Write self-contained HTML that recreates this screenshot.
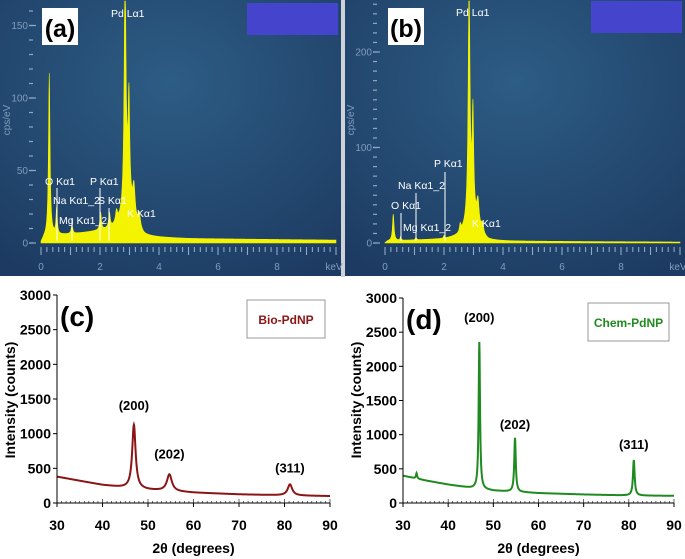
<!DOCTYPE html>
<html><head><meta charset="utf-8"><style>
html,body{margin:0;padding:0;background:#fff;}
svg{display:block;font-family:"Liberation Sans",sans-serif;}
</style></head><body>
<svg id="fig" width="685" height="559" viewBox="0 0 685 559">
<defs>
<radialGradient id="bg" cx="0.5" cy="0.3" r="0.8">
<stop offset="0" stop-color="#2d5c84"/><stop offset="1" stop-color="#1d3b62"/>
</radialGradient>
</defs>
<rect x="0" y="0" width="685" height="559" fill="#fff"/>
<rect x="341" y="0" width="4" height="277" fill="#cfd3d8"/>
<g id="pa"><rect x="0" y="0" width="341" height="276" fill="url(#bg)"/></g>
<g id="pb"><rect x="345" y="0" width="340" height="276" fill="url(#bg)"/></g>
<g id="pc"></g>
<g id="pd"></g>
</svg>
<script>
// ---- EDS data (a) ----
const edsABaseX=[0,0.1,0.3,1,2,2.8,3.5,5,10];
const edsABaseY=[0,3,5,6,8,10,4,3,2];
const edsAPeakC=[0.28,0.53,1.05,2.02,2.32,2.56,2.85,2.98,3.15,3.33,2.95];
const edsAPeakH=[112,18,6,12,10,8,165,65,22,10,25];
const edsAPeakW=[0.03,0.025,0.03,0.03,0.03,0.04,0.035,0.03,0.05,0.05,0.15];
const edsAYTicks=[0,50,100,150];
// ---- EDS data (b) ----
const edsBBaseX=[0,0.1,1,2,2.5,2.75,3.5,10];
const edsBBaseY=[0,2,3,4,6,10,2,1];
const edsBPeakC=[0.28,0.53,1.05,2.0,2.55,2.85,2.98,3.15,3.3,2.95];
const edsBPeakH=[28,4,3,3,8,250,100,28,10,25];
const edsBPeakW=[0.03,0.02,0.02,0.02,0.03,0.035,0.03,0.05,0.05,0.14];
const edsBYTicks=[0,100,200];
const edsXTicks=[0,2,4,6,8];
// ---- XRD data (c) Bio ----
const bioBaseX=[30,35,40,45,50,60,70,80,90];
const bioBaseY=[380,320,260,220,190,150,125,110,100];
const bioPeakC=[46.9,54.7,81.2];
const bioPeakH=[920,240,160];
const bioPeakW=[0.45,0.65,0.6];
// ---- XRD data (d) Chem ----
const chemBaseX=[30,35,40,45,50,60,70,80,90];
const chemBaseY=[400,330,270,220,180,145,125,110,105];
const chemPeakC=[33,46.9,54.8,81.1];
const chemPeakH=[80,2150,790,520];
const chemPeakW=[0.15,0.18,0.2,0.22];
const xrdYTicks=[0,500,1000,1500,2000,2500,3000];
const xrdXTicks=[30,40,50,60,70,80,90];
const hklLabels=["(200)","(202)","(311)"];

const NS="http://www.w3.org/2000/svg";
function mk(parent,tag,attrs,text){const e=document.createElementNS(NS,tag);for(const k in attrs)e.setAttribute(k,attrs[k]);if(text!==undefined)e.textContent=text;parent.appendChild(e);return e;}
function interp(xs,ys,x){if(x<=xs[0])return ys[0];for(let i=1;i<xs.length;i++){if(x<=xs[i]){const t=(x-xs[i-1])/(xs[i]-xs[i-1]);return ys[i-1]+t*(ys[i]-ys[i-1]);}}return ys[ys.length-1];}
function spec(bx,by,pc,ph,pw,x){let y=interp(bx,by,x);for(let i=0;i<pc.length;i++){const d=(x-pc[i])/pw[i];y+=ph[i]/(1+d*d);}return y;}

function eds(g,o){
  const sx=v=>o.x0+v*29.5, sy=v=>o.y0-v*o.k;
  let d="M"+sx(0)+","+sy(0);
  for(let x=0;x<=10.0001;x+=0.01){d+=" L"+sx(x).toFixed(2)+","+Math.max(1,sy(spec(o.bx,o.by,o.pc,o.ph,o.pw,x))).toFixed(2);}
  d+=" L"+sx(10)+","+sy(0)+" Z";
  const p=mk(g,"path",{d:d,fill:"#f4f400",stroke:"#f4f400","stroke-width":"0.6"});
  
  
  for(let v=0;sy(v)>2;v+=10){mk(g,"line",{x1:o.x0-12,x2:o.x0-8,y1:sy(v),y2:sy(v),stroke:"#8fa9c6","stroke-width":"1.2"});}
  o.yt.forEach(v=>{mk(g,"line",{x1:o.x0-12,x2:o.x0-5,y1:sy(v),y2:sy(v),stroke:"#8fa9c6","stroke-width":"1.2"});
    const t=mk(g,"text",{x:o.x0-13,y:sy(v)+3.5,"font-size":"10","fill":"#7f9cbd","text-anchor":"end"},String(v));
    
    });
  const yt=mk(g,"text",{x:0,y:0,"font-size":"10",fill:"#7f9cbd","text-anchor":"middle",transform:"translate("+(o.x0-31)+",120) rotate(-90)"},"cps/eV");
  
  
  for(let i=0;i<=50;i++){const x=sx(i*0.2);mk(g,"line",{x1:x,x2:x,y1:o.y0+4,y2:o.y0+(i%5==0?12:9),stroke:"#8fa9c6","stroke-width":"1.1"});}
  edsXTicks.forEach(v=>{const t=mk(g,"text",{x:sx(v),y:o.y0+27,"font-size":"10",fill:"#7f9cbd","text-anchor":"middle"},String(v));
    
    });
  const ku=mk(g,"text",{x:sx(10)-2,y:o.y0+27,"font-size":"10",fill:"#7f9cbd","text-anchor":"middle"},"keV");
  
  
  o.lines.forEach(l=>mk(g,"line",{x1:l[0],x2:l[0],y1:l[1],y2:o.y0-2,stroke:"#fff","stroke-width":"1"}));
  o.labels.forEach(l=>{const t=mk(g,"text",{x:l[1],y:l[2],"font-size":"10.5",fill:"#fff"},l[0]);
    
    });
  const b=mk(g,"rect",{x:o.bx0,y:o.by0,width:91,height:32,fill:"#4444cc"});
  
  
  mk(g,"rect",{x:o.lx,y:8,width:36,height:37,fill:"#fff"});
  const lt=mk(g,"text",{x:o.lx+18,y:37,"font-size":"25","font-weight":"bold","text-anchor":"middle",fill:"#000"},o.lab);
  
  
}
eds(document.getElementById("pa"),{x0:41,y0:243,k:1.45,bx:edsABaseX,by:edsABaseY,pc:edsAPeakC,ph:edsAPeakH,pw:edsAPeakW,yt:edsAYTicks,
  lines:[[57,188],[72,218],[100,188],[109,208]],
  labels:[["O Kα1",45,185],["Na Kα1_2",53,204],["Mg Kα1_2",59,224],["P Kα1",90,185],["S Kα1",98,204],["K Kα1",127,217],["Pd Lα1",111,17]],
  bx0:247,by0:3,lx:42,lab:"(a)"});
eds(document.getElementById("pb"),{x0:385,y0:243,k:0.955,bx:edsBBaseX,by:edsBBaseY,pc:edsBPeakC,ph:edsBPeakH,pw:edsBPeakW,yt:edsBYTicks,
  lines:[[401,213],[416,193],[445,172]],
  labels:[["O Kα1",391,209],["Na Kα1_2",398,189],["Mg Kα1_2",403,231],["P Kα1",434,167],["K Kα1",472,227],["Pd Lα1",456,16]],
  bx0:591,by0:1,lx:388,lab:"(b)"});

function xrd(g,o){
  const sx=v=>o.x0+(v-30)*(o.x1-o.x0)/60, sy=v=>o.y0-v*(o.y0-o.yTop)/3000;
  let d="";
  for(let x=30;x<=90.0001;x+=0.05){d+=(d?" L":"M")+sx(x).toFixed(2)+","+sy(spec(o.bx,o.by,o.pc,o.ph,o.pw,x)).toFixed(2);}
  const p=mk(g,"path",{d:d,fill:"none",stroke:o.col,"stroke-width":"2"});
  
  
  mk(g,"line",{x1:o.x0,x2:o.x0,y1:o.yTop,y2:o.y0,stroke:"#000","stroke-width":"1"});
  mk(g,"line",{x1:o.x0,x2:o.x1,y1:o.y0,y2:o.y0,stroke:"#000","stroke-width":"1"});
  for(let v=30;v<=90;v++){const x=sx(v);mk(g,"line",{x1:x,x2:x,y1:o.y0,y2:o.y0-(v%10==0?4:2),stroke:"#000","stroke-width":"0.6"});}
  xrdYTicks.forEach(v=>{mk(g,"line",{x1:o.x0-4,x2:o.x0,y1:sy(v),y2:sy(v),stroke:"#000"});
    const t=mk(g,"text",{x:o.x0-6,y:sy(v)+5,"font-size":"14","font-weight":"bold","text-anchor":"end"},String(v));
    
    });
  xrdXTicks.forEach(v=>{mk(g,"line",{x1:sx(v),x2:sx(v),y1:o.y0,y2:o.y0+4,stroke:"#000"});
    const t=mk(g,"text",{x:sx(v),y:o.y0+27,"font-size":"14","font-weight":"bold","text-anchor":"middle"},String(v));
    
    });
  const xt=mk(g,"text",{x:(o.x0+o.x1)/2,y:553,"font-size":"14","font-weight":"bold","text-anchor":"middle"},"2θ (degrees)");
  
  
  const yt=mk(g,"text",{x:0,y:0,"font-size":"14","font-weight":"bold","text-anchor":"middle",transform:"translate("+(o.x0-42)+",400) rotate(-90)"},"Intensity (counts)");
  
  
  hklLabels.forEach((l,i)=>{const t=mk(g,"text",{x:sx(o.pc[o.hi[i]]),y:sy(o.ly[i]),"font-size":"13","font-weight":"bold","text-anchor":"middle"},l);
    
    });
  const lb=mk(g,"rect",{x:o.lgx,y:o.lgy,width:o.lgw,height:38,fill:"#fff",stroke:"#999"});
  
  
  const lt=mk(g,"text",{x:o.lgx+o.lgw/2,y:o.lgy+24,"font-size":"12","font-weight":"bold",fill:o.col,"text-anchor":"middle"},o.name);
  
  
  const pl=mk(g,"text",{x:o.x0+3,y:o.yTop+31,"font-size":"28","font-weight":"bold"},o.lab);
  
  
}
xrd(document.getElementById("pc"),{x0:57,x1:330,y0:503,yTop:295,bx:bioBaseX,by:bioBaseY,pc:bioPeakC,ph:bioPeakH,pw:bioPeakW,col:"#8b1414",
  hi:[0,1,2],ly:[1340,640,440],lgx:247,lgy:300,lgw:78,name:"Bio-PdNP",lab:"(c)"});
xrd(document.getElementById("pd"),{x0:403,x1:674,y0:503,yTop:298,bx:chemBaseX,by:chemBaseY,pc:chemPeakC,ph:chemPeakH,pw:chemPeakW,col:"#1f8a1f",
  hi:[1,2,3],ly:[2650,1080,790],lgx:588,lgy:303,lgw:81,name:"Chem-PdNP",lab:"(d)"});
</script>
</body></html>
